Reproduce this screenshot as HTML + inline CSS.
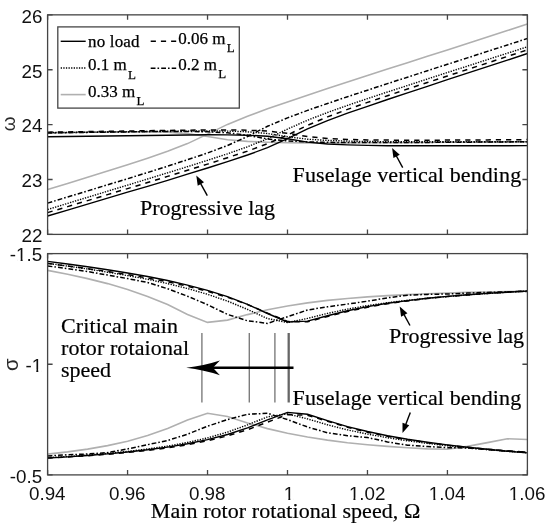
<!DOCTYPE html>
<html><head><meta charset="utf-8"><style>
html,body{margin:0;padding:0;background:#fff;}
svg{display:block;}
.t{font-family:'Liberation Sans',Arial,sans-serif;font-size:18.8px;fill:#111;}
.a{font-family:'Liberation Serif','Times New Roman',serif;font-size:22px;fill:#000;stroke:#000;stroke-width:0.2px;}
.l{font-family:'Liberation Serif','Times New Roman',serif;font-size:17px;fill:#000;stroke:#000;stroke-width:0.25px;}
.s{font-size:13px;}
</style></head><body>
<svg width="550" height="529" viewBox="0 0 550 529">
<defs><clipPath id="ct"><rect x="47.60" y="14.85" width="479.80" height="219.55"/></clipPath><clipPath id="cb"><rect x="47.60" y="253.60" width="479.80" height="221.30"/></clipPath></defs>
<g clip-path="url(#ct)"><path d="M47.6,189.6 67.6,183.5 87.6,177.3 107.6,171.0 127.6,164.7 147.6,158.2 167.6,151.3 187.5,143.6 207.5,134.1 227.5,124.4 247.5,116.2 267.5,108.8 287.5,101.9 307.5,95.2 327.5,88.6 347.5,82.1 367.5,75.6 387.5,69.1 407.5,62.7 427.4,56.3 447.4,49.9 467.4,43.4 487.4,37.0 507.4,30.6 527.4,24.1" stroke="#b0b0b0" stroke-width="1.6" fill="none"/><path d="M47.6,132.9 67.6,132.6 87.6,132.3 107.6,132.1 127.6,131.9 147.6,131.9 167.6,132.3 187.5,133.6 207.5,136.5 227.5,139.8 247.5,141.4 267.5,142.2 287.5,142.7 307.5,142.9 327.5,142.9 347.5,142.9 367.5,142.8 387.5,142.7 407.5,142.6 427.4,142.5 447.4,142.3 467.4,142.2 487.4,142.1 507.4,141.9 527.4,141.8" stroke="#b0b0b0" stroke-width="1.6" fill="none"/><path d="M47.6,203.1 67.6,197.0 87.6,190.9 107.6,184.8 127.6,178.7 147.6,172.5 167.6,166.2 187.5,159.7 207.5,153.0 227.5,145.5 247.5,136.5 267.5,126.3 287.5,117.9 307.5,110.4 327.5,103.5 347.5,96.7 367.5,90.2 387.5,83.6 407.5,77.2 427.4,70.7 447.4,64.3 467.4,57.9 487.4,51.4 507.4,45.0 527.4,38.5" stroke="#000" stroke-width="1.5" stroke-dasharray="4.8 2 1.6 2.1" fill="none"/><path d="M47.6,133.0 67.6,132.7 87.6,132.4 107.6,132.1 127.6,131.9 147.6,131.6 167.6,131.5 187.5,131.5 207.5,131.8 227.5,132.7 247.5,135.3 267.5,139.0 287.5,140.9 307.5,141.9 327.5,142.3 347.5,142.5 367.5,142.6 387.5,142.6 407.5,142.5 427.4,142.4 447.4,142.3 467.4,142.2 487.4,142.0 507.4,141.9 527.4,141.7" stroke="#000" stroke-width="1.5" stroke-dasharray="4.8 2 1.6 2.1" fill="none"/><path d="M47.6,209.5 67.6,203.4 87.6,197.3 107.6,191.2 127.6,185.1 147.6,179.0 167.6,172.8 187.5,166.7 207.5,160.3 227.5,153.8 247.5,146.8 267.5,138.7 287.5,129.1 307.5,120.2 327.5,112.5 347.5,105.4 367.5,98.6 387.5,92.0 407.5,85.5 427.4,79.0 447.4,72.5 467.4,66.1 487.4,59.6 507.4,53.2 527.4,46.8" stroke="#000" stroke-width="1.4" stroke-dasharray="1.3 1.3" fill="none"/><path d="M47.6,132.6 67.6,132.4 87.6,132.2 107.6,132.0 127.6,131.7 147.6,131.5 167.6,131.2 187.5,131.1 207.5,131.0 227.5,131.1 247.5,131.8 267.5,133.5 287.5,136.7 307.5,139.2 327.5,140.4 347.5,141.1 367.5,141.5 387.5,141.7 407.5,141.8 427.4,141.8 447.4,141.8 467.4,141.8 487.4,141.8 507.4,141.8 527.4,141.7" stroke="#000" stroke-width="1.4" stroke-dasharray="1.3 1.3" fill="none"/><path d="M47.6,212.6 67.6,206.6 87.6,200.6 107.6,194.6 127.6,188.6 147.6,182.5 167.6,176.4 187.5,170.3 207.5,164.1 227.5,157.7 247.5,151.1 267.5,143.7 287.5,135.0 307.5,125.3 327.5,116.9 347.5,109.4 367.5,102.4 387.5,95.7 407.5,89.0 427.4,82.5 447.4,76.0 467.4,69.5 487.4,63.0 507.4,56.4 527.4,49.9" stroke="#000" stroke-width="1.5" stroke-dasharray="5.2 5" fill="none"/><path d="M47.6,132.2 67.6,131.9 87.6,131.6 107.6,131.3 127.6,131.0 147.6,130.7 167.6,130.4 187.5,130.2 207.5,130.0 227.5,129.9 247.5,130.2 267.5,131.1 287.5,133.3 307.5,136.6 327.5,138.5 347.5,139.4 367.5,139.9 387.5,140.1 407.5,140.2 427.4,140.2 447.4,140.1 467.4,140.0 487.4,139.9 507.4,139.7 527.4,139.6" stroke="#000" stroke-width="1.5" stroke-dasharray="5.2 5" fill="none"/><path d="M47.6,216.0 67.6,210.1 87.6,204.1 107.6,198.2 127.6,192.2 147.6,186.3 167.6,180.3 187.5,174.2 207.5,168.0 227.5,161.7 247.5,155.0 267.5,147.7 287.5,138.7 307.5,128.9 327.5,120.6 347.5,113.2 367.5,106.3 387.5,99.5 407.5,92.9 427.4,86.3 447.4,79.7 467.4,73.2 487.4,66.7 507.4,60.1 527.4,53.5" stroke="#000" stroke-width="1.4" fill="none"/><path d="M47.6,136.7 67.6,136.5 87.6,136.2 107.6,136.0 127.6,135.7 147.6,135.5 167.6,135.2 187.5,135.0 207.5,134.8 227.5,134.9 247.5,135.2 267.5,136.2 287.5,138.8 307.5,142.1 327.5,144.0 347.5,144.9 367.5,145.4 387.5,145.7 407.5,145.8 427.4,145.8 447.4,145.8 467.4,145.8 487.4,145.7 507.4,145.7 527.4,145.6" stroke="#000" stroke-width="1.4" fill="none"/></g>
<g clip-path="url(#cb)"><path d="M47.6,270.4 67.6,274.3 87.6,278.6 107.6,283.6 127.6,289.5 147.6,296.4 167.6,304.6 187.5,314.4 207.5,322.4 227.5,320.1 247.5,314.6 267.5,309.8 287.5,306.0 307.5,302.9 327.5,300.4 347.5,298.5 367.5,296.9 387.5,295.6 407.5,294.6 427.4,293.7 447.4,293.0 467.4,292.4 487.4,292.0 507.4,291.6 527.4,291.2" stroke="#b0b0b0" stroke-width="1.6" fill="none"/><path d="M47.6,454.1 67.6,451.9 87.6,449.1 107.6,445.6 127.6,441.2 147.6,435.6 167.6,428.6 187.5,420.0 207.5,413.2 227.5,416.5 247.5,422.9 267.5,428.6 287.5,433.2 307.5,437.0 327.5,440.1 347.5,442.7 367.5,444.7 387.5,446.4 407.5,447.8 427.4,448.9 447.4,449.3 467.4,446.4 487.4,442.6 507.4,438.8 527.4,439.5" stroke="#b0b0b0" stroke-width="1.6" fill="none"/><path d="M47.6,266.0 67.6,268.6 87.6,271.5 107.6,275.1 127.6,278.6 147.6,282.5 167.6,288.7 187.5,296.2 207.5,304.7 227.5,314.4 247.5,320.8 267.5,323.4 287.5,316.7 307.5,310.0 327.5,306.8 347.5,304.1 367.5,301.2 387.5,297.8 407.5,295.2 427.4,294.4 447.4,294.0 467.4,293.1 487.4,292.4 507.4,291.8 527.4,291.4" stroke="#000" stroke-width="1.5" stroke-dasharray="4.8 2 1.6 2.1" fill="none"/><path d="M47.6,456.0 67.6,454.8 87.6,454.0 107.6,452.6 127.6,448.9 147.6,444.7 167.6,440.5 187.5,434.2 207.5,426.2 227.5,419.6 247.5,414.3 267.5,413.3 287.5,419.6 307.5,427.0 327.5,432.8 347.5,435.7 367.5,437.6 387.5,441.9 407.5,445.2 427.4,446.5 447.4,447.7 467.4,448.0 487.4,449.5 507.4,451.2 527.4,452.1" stroke="#000" stroke-width="1.5" stroke-dasharray="4.8 2 1.6 2.1" fill="none"/><path d="M47.6,263.3 67.6,266.1 87.6,269.0 107.6,272.2 127.6,275.6 147.6,279.3 167.6,283.6 187.5,288.5 207.5,294.3 227.5,301.1 247.5,309.4 267.5,318.6 287.5,322.5 307.5,318.4 327.5,313.4 347.5,309.1 367.5,305.6 387.5,302.7 407.5,300.3 427.4,298.2 447.4,296.5 467.4,294.9 487.4,293.5 507.4,292.2 527.4,291.0" stroke="#000" stroke-width="1.4" stroke-dasharray="1.3 1.3" fill="none"/><path d="M47.6,457.7 67.6,456.5 87.6,455.1 107.6,453.4 127.6,451.4 147.6,449.0 167.6,446.1 187.5,442.4 207.5,437.9 227.5,432.1 247.5,424.9 267.5,416.8 287.5,413.9 307.5,418.9 327.5,424.8 347.5,429.9 367.5,434.1 387.5,437.7 407.5,440.8 427.4,443.4 447.4,445.8 467.4,447.8 487.4,449.6 507.4,451.3 527.4,452.8" stroke="#000" stroke-width="1.4" stroke-dasharray="1.3 1.3" fill="none"/><path d="M47.6,263.4 67.6,266.0 87.6,268.6 107.6,271.5 127.6,274.6 147.6,278.0 167.6,281.8 187.5,286.2 207.5,291.3 227.5,297.3 247.5,304.5 267.5,313.1 287.5,321.5 307.5,321.8 327.5,316.5 347.5,311.4 367.5,307.2 387.5,303.7 407.5,300.9 427.4,298.5 447.4,296.5 467.4,294.9 487.4,293.4 507.4,292.1 527.4,290.9" stroke="#000" stroke-width="1.5" stroke-dasharray="5.2 5" fill="none"/><path d="M47.6,458.0 67.6,456.9 87.6,455.7 107.6,454.3 127.6,452.5 147.6,450.4 167.6,447.9 187.5,444.7 207.5,440.8 227.5,435.9 247.5,429.7 267.5,422.1 287.5,414.6 307.5,415.2 327.5,421.3 347.5,427.2 367.5,432.2 387.5,436.3 407.5,439.7 427.4,442.7 447.4,445.2 467.4,447.3 487.4,449.2 507.4,450.8 527.4,452.3" stroke="#000" stroke-width="1.5" stroke-dasharray="5.2 5" fill="none"/><path d="M47.6,261.4 67.6,264.0 87.6,266.8 107.6,269.8 127.6,273.0 147.6,276.5 167.6,280.5 187.5,285.1 207.5,290.4 227.5,296.7 247.5,304.3 267.5,313.5 287.5,322.0 307.5,321.1 327.5,315.7 347.5,310.7 367.5,306.6 387.5,303.3 407.5,300.6 427.4,298.3 447.4,296.4 467.4,294.8 487.4,293.4 507.4,292.2 527.4,291.1" stroke="#000" stroke-width="1.4" fill="none"/><path d="M47.6,458.1 67.6,456.9 87.6,455.5 107.6,453.9 127.6,452.0 147.6,449.8 167.6,447.1 187.5,443.7 207.5,439.6 227.5,434.5 247.5,427.9 267.5,419.8 287.5,412.4 307.5,414.3 327.5,420.7 347.5,426.6 367.5,431.5 387.5,435.7 407.5,439.3 427.4,442.3 447.4,444.9 467.4,447.2 487.4,449.3 507.4,451.2 527.4,452.9" stroke="#000" stroke-width="1.4" fill="none"/></g>
<rect x="47.6" y="14.85" width="479.80" height="219.55" fill="none" stroke="#454545" stroke-width="1.3"/>
<path d="M47.60,234.40v-5M47.60,14.85v5M127.57,234.40v-5M127.57,14.85v5M207.53,234.40v-5M207.53,14.85v5M287.50,234.40v-5M287.50,14.85v5M367.47,234.40v-5M367.47,14.85v5M447.43,234.40v-5M447.43,14.85v5M527.40,234.40v-5M527.40,14.85v5M47.60,234.40h5M527.40,234.40h-5M47.60,179.51h5M527.40,179.51h-5M47.60,124.62h5M527.40,124.62h-5M47.60,69.74h5M527.40,69.74h-5M47.60,14.85h5M527.40,14.85h-5" stroke="#454545" stroke-width="1.3" fill="none"/>
<rect x="47.6" y="253.6" width="479.80" height="221.30" fill="none" stroke="#454545" stroke-width="1.3"/>
<path d="M47.60,474.90v-5M47.60,253.60v5M127.57,474.90v-5M127.57,253.60v5M207.53,474.90v-5M207.53,253.60v5M287.50,474.90v-5M287.50,253.60v5M367.47,474.90v-5M367.47,253.60v5M447.43,474.90v-5M447.43,253.60v5M527.40,474.90v-5M527.40,253.60v5M47.60,253.60h5M527.40,253.60h-5M47.60,364.25h5M527.40,364.25h-5M47.60,474.90h5M527.40,474.90h-5" stroke="#454545" stroke-width="1.3" fill="none"/>
<line x1="201.9" y1="333" x2="201.9" y2="402.5" stroke="#7c7c7c" stroke-width="1.4"/>
<line x1="249.3" y1="333" x2="249.3" y2="402.5" stroke="#7c7c7c" stroke-width="1.4"/>
<line x1="274.9" y1="333" x2="274.9" y2="402.5" stroke="#7c7c7c" stroke-width="1.4"/>
<line x1="288.7" y1="333" x2="288.7" y2="402.5" stroke="#666" stroke-width="2.3"/>
<line x1="293.5" y1="367.8" x2="205" y2="367.8" stroke="#000" stroke-width="2.4"/>
<path d="M186.2,367.8 Q204,365.6 219.9,360.4 L212.9,367.8 L219.9,375.2 Q204,370 186.2,367.8 Z" fill="#000"/>
<line x1="402.7" y1="167.7" x2="396.13" y2="155.49" stroke="#000" stroke-width="1.4"/>
<path d="M392.1,148.0 L399.77,154.66 L393.43,158.07 Z" fill="#000"/>
<line x1="207.3" y1="195.6" x2="200.40" y2="183.05" stroke="#000" stroke-width="1.4"/>
<path d="M196.3,175.6 L204.03,182.19 L197.72,185.66 Z" fill="#000"/>
<line x1="410" y1="325.5" x2="403.77" y2="314.06" stroke="#000" stroke-width="1.4"/>
<path d="M399.7,306.6 L407.41,313.22 L401.08,316.66 Z" fill="#000"/>
<line x1="410.3" y1="412.5" x2="405.54" y2="424.96" stroke="#000" stroke-width="1.4"/>
<path d="M402.5,432.9 L402.53,422.74 L409.26,425.31 Z" fill="#000"/>
<text x="42.4" y="242.20" text-anchor="end" class="t">22</text>
<text x="42.4" y="187.31" text-anchor="end" class="t">23</text>
<text x="42.4" y="132.43" text-anchor="end" class="t">24</text>
<text x="42.4" y="77.54" text-anchor="end" class="t">25</text>
<text x="42.4" y="22.65" text-anchor="end" class="t">26</text>
<text x="42.2" y="261.20" text-anchor="end" class="t">-1.5</text>
<text x="42.2" y="371.85" text-anchor="end" class="t">-1</text>
<text x="42.2" y="482.50" text-anchor="end" class="t">-0.5</text>
<text x="47.30" y="500.2" text-anchor="middle" class="t">0.94</text>
<text x="127.27" y="500.2" text-anchor="middle" class="t">0.96</text>
<text x="207.23" y="500.2" text-anchor="middle" class="t">0.98</text>
<text x="289.00" y="500.2" text-anchor="middle" class="t">1</text>
<text x="367.17" y="500.2" text-anchor="middle" class="t">1.02</text>
<text x="447.13" y="500.2" text-anchor="middle" class="t">1.04</text>
<text x="527.10" y="500.2" text-anchor="middle" class="t">1.06</text>
<rect x="17.07" y="258.80" width="3.55" height="3.2" fill="#fff"/>
<rect x="22.62" y="258.80" width="3.60" height="3.2" fill="#fff"/>
<rect x="32.74" y="369.45" width="3.55" height="3.2" fill="#fff"/>
<rect x="38.29" y="369.45" width="3.60" height="3.2" fill="#fff"/>
<rect x="284.77" y="497.80" width="3.55" height="3.2" fill="#fff"/>
<rect x="290.32" y="497.80" width="3.60" height="3.2" fill="#fff"/>
<rect x="349.87" y="497.80" width="3.55" height="3.2" fill="#fff"/>
<rect x="355.42" y="497.80" width="3.60" height="3.2" fill="#fff"/>
<rect x="429.84" y="497.80" width="3.55" height="3.2" fill="#fff"/>
<rect x="435.39" y="497.80" width="3.60" height="3.2" fill="#fff"/>
<rect x="509.80" y="497.80" width="3.55" height="3.2" fill="#fff"/>
<rect x="515.35" y="497.80" width="3.60" height="3.2" fill="#fff"/>
<text x="285.6" y="517.8" text-anchor="middle" class="a" textLength="269.5" lengthAdjust="spacing">Main rotor rotational speed, &#937;</text>
<text transform="translate(14.6,123.9) rotate(-90)" text-anchor="middle" class="t" style="fill:#2a2a2a">&#969;</text>
<text transform="translate(17.6,364.7) rotate(-90)" text-anchor="middle" class="t" style="font-size:20.5px;fill:#2a2a2a">&#963;</text>
<text x="292.6" y="182.2" class="a" textLength="228.6" lengthAdjust="spacing">Fuselage vertical bending</text>
<text x="140" y="214.7" class="a">Progressive lag</text>
<text x="61" y="333.3" class="a" textLength="117">Critical main</text>
<text x="61" y="355.1" class="a" textLength="128">rotor rotaional</text>
<text x="61" y="376.9" class="a">speed</text>
<text x="389" y="343.4" class="a">Progressive lag</text>
<text x="292.6" y="404.6" class="a" textLength="228.6" lengthAdjust="spacing">Fuselage vertical bending</text>
<rect x="57.8" y="26.9" width="181.5" height="81.2" fill="#fff" stroke="#454545" stroke-width="1.3"/>
<line x1="60.7" y1="41.3" x2="85.7" y2="41.3" stroke="#000" stroke-width="1.4"/>
<text x="88" y="47.2" class="l" textLength="51.5">no load</text>
<line x1="150.7" y1="41.2" x2="176.2" y2="41.2" stroke="#000" stroke-width="1.5" stroke-dasharray="5.2 5"/>
<text x="178.3" y="43.6" class="l">0.06 m<tspan class="s" dx="1.2" dy="8.2">L</tspan></text>
<line x1="60.7" y1="68.0" x2="85.7" y2="68.0" stroke="#000" stroke-width="1.4" stroke-dasharray="1.3 1.3"/>
<text x="88" y="70.4" class="l">0.1 m<tspan class="s" dx="1.2" dy="8.2">L</tspan></text>
<line x1="150.7" y1="68.2" x2="176.2" y2="68.2" stroke="#000" stroke-width="1.5" stroke-dasharray="4.8 2 1.6 2.1"/>
<text x="178.3" y="70.2" class="l">0.2 m<tspan class="s" dx="1.2" dy="8.2">L</tspan></text>
<line x1="60.7" y1="94.6" x2="85.7" y2="94.6" stroke="#b0b0b0" stroke-width="1.6"/>
<text x="88" y="96.6" class="l">0.33 m<tspan class="s" dx="1.2" dy="8.2">L</tspan></text>
</svg>
</body></html>
